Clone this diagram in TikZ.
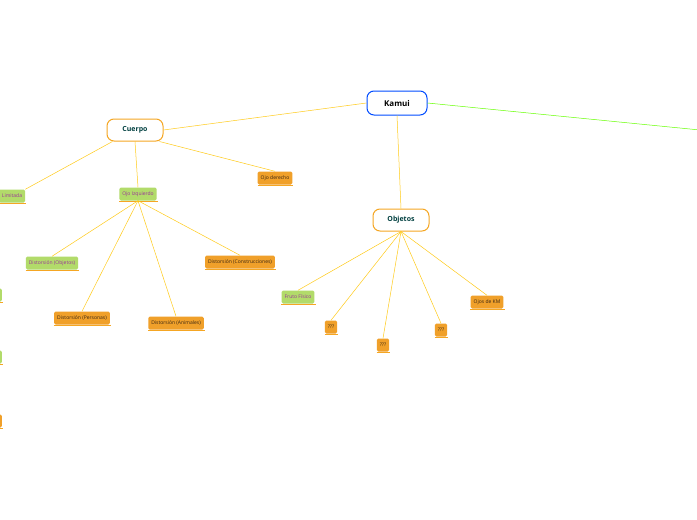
\documentclass[tikz,border=0pt]{standalone}
\usepackage{fontspec}
\setmainfont{Open Sans}
\definecolor{lf}{HTML}{B2DB6A}
\definecolor{of}{HTML}{F0A02A}
\definecolor{ul}{HTML}{F5A623}
\begin{document}
\begin{tikzpicture}[x=1pt,y=-1pt,
  main/.style={draw=ul,line width=1pt,rounded corners=7pt,fill=white,minimum width=56pt,minimum height=22pt,font=\fontsize{7}{8}\selectfont\bfseries,text=teal!50!black},
  mainb/.style={main,draw=blue!70!cyan,minimum width=60pt,minimum height=24pt,font=\fontsize{8}{9}\selectfont\bfseries,text=black},
  gr/.style={fill=lf,rounded corners=1.5pt,inner xsep=3pt,minimum height=13pt,font=\fontsize{5}{6}\selectfont,text=violet!80},
  og/.style={fill=of,rounded corners=1.5pt,inner xsep=3pt,minimum height=13pt,font=\fontsize{5}{6}\selectfont,text=brown!30!black},
  ulx/.style={draw=ul,line width=1pt},
  ln/.style={draw=orange!45!yellow!90,line width=0.5pt},
  lg/.style={draw=green!60!yellow,line width=0.5pt}]
\useasboundingbox (0,0) rectangle (697,520);
\clip (0,0) rectangle (697,520);
\fill[white] (0,0) rectangle (697,520);
\node[mainb] (k) at (397,103) {Kamui};
\node[main] (c) at (135,130) {Cuerpo};
\node[main] (o) at (401,220) {Objetos};
\coordinate (r) at (700,130);
\newcommand\leaf[4]{\node[#1] (#2) at (#3) {#4}; \draw[ulx] ([yshift=-1pt]#2.south west) -- ([xshift=1pt,yshift=-1pt]#2.south east);}
\leaf{gr}{lim}{12,196}{Limitada}
\leaf{gr}{oi}{138,194}{Ojo Izquierdo}
\leaf{og}{od}{275,178}{Ojo derecho}
\leaf{gr}{dob}{52,263}{Distorsión (Objetos)}
\leaf{og}{dco}{240,262}{Distorsión (Construcciones)}
\leaf{og}{dpe}{82,318}{Distorsión (Personas)}
\leaf{og}{dan}{176,323}{Distorsión (Animales)}
\leaf{gr}{ff}{298,297}{Fruto Físico}
\leaf{og}{q1}{331,327}{???}
\leaf{og}{q2}{383,345}{???}
\leaf{og}{q3}{441,330}{???}
\leaf{og}{km}{487,302}{Ojos de KM}
\leaf{gr}{l1}{-4,295}{(x)}
\leaf{gr}{l2}{-4,357}{(x)}
\leaf{og}{l3}{-4,421}{(x)}
\draw[ln] (k.west) -- (c.east);
\draw[ln] (k.south) -- (o.north);
\draw[lg] (k.east) -- (r);
\draw[ln] (c.south west) ++(6,0) -- (lim.north east);
\draw[ln] (c.south) -- (oi.north);
\draw[ln] (c.south east) ++(-4,0) -- (od.north);
\draw[ln] (oi.south) -- (dob.north);
\draw[ln] (oi.south) -- (dpe.north);
\draw[ln] (oi.south) -- (dan.north);
\draw[ln] (oi.south) -- (dco.north);
\draw[ln] (o.south) -- (ff.north);
\draw[ln] (o.south) -- (q1.north);
\draw[ln] (o.south) -- (q2.north);
\draw[ln] (o.south) -- (q3.north);
\draw[ln] (o.south) -- (km.north);
\end{tikzpicture}
\end{document}
